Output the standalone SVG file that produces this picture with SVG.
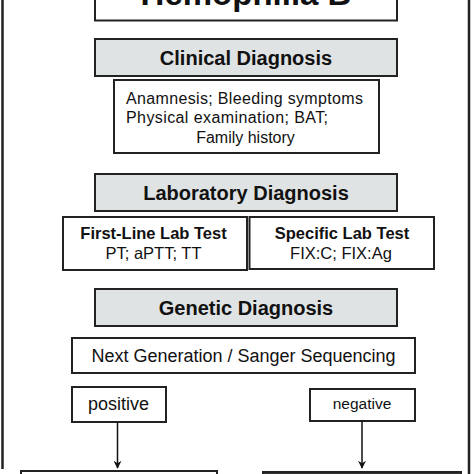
<svg xmlns="http://www.w3.org/2000/svg" width="474" height="474" viewBox="0 0 474 474">
<defs>
<style>
.box{fill:#ffffff;stroke:#222;stroke-width:2}
.hdr{fill:#dfe3e3;stroke:#222;stroke-width:2}
.dark{fill:#3a3a3a;stroke:#222;stroke-width:2}
.t{font-family:"Liberation Sans",Arial,sans-serif;fill:#111}
.b{font-weight:bold}
.c{text-anchor:middle}
.con{stroke:#111;stroke-width:1.5;fill:none}
</style>
<marker id="ah" viewBox="0 0 10 10" refX="9" refY="5" markerWidth="8" markerHeight="8" markerUnits="userSpaceOnUse" orient="auto">
<path d="M0,0 L10,5 L0,10 L3,5 z" fill="#111"/>
</marker>
</defs>
<rect width="474" height="474" fill="#ffffff"/>
<g id="frame">
<line x1="2.5" y1="0" x2="2.5" y2="469" stroke="#222" stroke-width="2.5"/>
<line x1="469" y1="0" x2="469" y2="474" stroke="#222" stroke-width="2.5"/>
</g>
<g id="title">
<rect class="box" x="95" y="-20" width="302" height="40.5"/>
<text class="t b c" x="246" y="5" font-size="33">Hemophilia B</text>
</g>
<g id="clinical">
<rect class="hdr" x="95" y="39" width="302" height="37"/>
<text class="t b c" x="246" y="65" font-size="20">Clinical Diagnosis</text>
</g>
<g id="clinical-details">
<rect class="box" x="114" y="80" width="265" height="73"/>
<text class="t" x="126" y="104" font-size="16" textLength="237">Anamnesis; Bleeding symptoms</text>
<text class="t" x="126" y="123" font-size="16" textLength="202">Physical examination; BAT;</text>
<text class="t c" x="245.5" y="142.5" font-size="16">Family history</text>
</g>
<g id="laboratory">
<rect class="hdr" x="95" y="174" width="302" height="37"/>
<text class="t b c" x="246" y="200" font-size="20">Laboratory Diagnosis</text>
</g>
<g id="first-line">
<rect class="box" x="63" y="217" width="184" height="53"/>
<text class="t b c" x="153.5" y="239" font-size="16.5">First-Line Lab Test</text>
<text class="t c" x="153.5" y="258.5" font-size="16.5">PT; aPTT; TT</text>
</g>
<g id="specific">
<rect class="box" x="249.5" y="217" width="184.5" height="52"/>
<text class="t b c" x="342" y="239" font-size="16.5">Specific Lab Test</text>
<text class="t c" x="341" y="258.5" font-size="16.5">FIX:C; FIX:Ag</text>
</g>
<g id="genetic">
<rect class="hdr" x="95" y="289" width="302" height="37"/>
<text class="t b c" x="246" y="315" font-size="20">Genetic Diagnosis</text>
</g>
<g id="sequencing">
<rect class="box" x="72" y="338" width="343" height="35"/>
<text class="t c" x="243.5" y="362" font-size="18">Next Generation / Sanger Sequencing</text>
</g>
<g id="positive">
<rect class="box" x="72" y="387" width="94" height="35"/>
<text class="t c" x="118.5" y="410" font-size="18">positive</text>
</g>
<g id="negative">
<rect class="box" x="310" y="389" width="105" height="32"/>
<text class="t c" x="362" y="409" font-size="15.5">negative</text>
</g>
<g id="result-positive">
<rect class="box" x="21" y="471" width="196" height="20"/>
</g>
<g id="result-negative">
<rect class="dark" x="263" y="472" width="198" height="20"/>
</g>
<g id="connectors">
<line class="con" x1="117.5" y1="422" x2="117.5" y2="468" marker-end="url(#ah)"/>
<line class="con" x1="362" y1="421" x2="362" y2="468" marker-end="url(#ah)"/>
</g>
</svg>
